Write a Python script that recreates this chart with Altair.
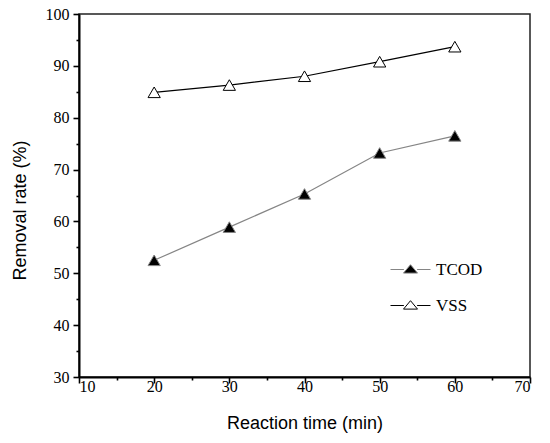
import altair as alt
import pandas as pd

times = [20, 30, 40, 50, 60]
tcod = [52.5, 58.9, 65.3, 73.2, 76.5]
vss = [84.9, 86.3, 88.0, 90.8, 93.7]
series = ["TCOD", "VSS"]

df = pd.DataFrame({
    "time": times * 2,
    "rate": tcod + vss,
    "series": [series[0]] * len(times) + [series[1]] * len(times),
})

x_ticks = list(range(10, 71, 5))
y_ticks = list(range(30, 101, 5))

SERIF = "Times New Roman, Liberation Serif, serif"
SANS = "Arial, Liberation Sans, sans-serif"

tick_cond = {"condition": {"test": "datum.value % 10 === 0", "value": 6}, "value": 3}

x_enc = alt.X(
    "time:Q",
    scale=alt.Scale(domain=[10, 70], nice=False, zero=False),
    axis=alt.Axis(
        title="Reaction time (min)",
        values=x_ticks,
        labelExpr="datum.value % 10 === 0 ? datum.label : ''",
        tickSize=tick_cond,
        grid=False,
        labelPadding=-5,
        titlePadding=20,
    ),
)
y_enc = alt.Y(
    "rate:Q",
    scale=alt.Scale(domain=[30, 100], nice=False, zero=False),
    axis=alt.Axis(
        title="Removal rate (%)",
        values=y_ticks,
        labelExpr="datum.value % 10 === 0 ? datum.label : ''",
        tickSize=tick_cond,
        grid=False,
        labelPadding=4,
        titlePadding=16,
        titleY=196,
    ),
)

stroke_scale = alt.Scale(domain=series, range=["#858585", "#000000"])
fill_scale = alt.Scale(domain=series, range=["#000000", "#ffffff"])

legend = alt.Legend(
    title=None,
    orient="none",
    legendX=311,
    legendY=235,
    padding=0,
    symbolType="M-1,0L-0.33,0M0.33,0L1,0M0,-0.24L0.35,0.18L-0.35,0.18Z",
    symbolSize=1600,
    symbolStrokeWidth=1,
    labelFont=SERIF,
    labelFontSize=17,
    labelColor="black",
    labelOffset=5,
    rowPadding=7,
)

lines = alt.Chart(df).mark_line(strokeWidth=1.2).encode(
    x=x_enc,
    y=y_enc,
    stroke=alt.Stroke("series:N", scale=stroke_scale, legend=legend),
    detail="series:N",
)

points = alt.Chart(df).mark_point(
    shape="triangle-up", size=150, strokeWidth=1, opacity=1, filled=False
).encode(
    x=x_enc,
    y=y_enc,
    fill=alt.Fill("series:N", scale=fill_scale, legend=legend),
    stroke=alt.Stroke("series:N", scale=stroke_scale, legend=legend),
)

chart = alt.layer(lines, points).properties(
    width=451,
    height=363,
    autosize=alt.AutoSizeParams(type="none"),
    padding={"left": 71, "top": 6, "right": 11, "bottom": 66},
).configure_view(
    stroke="#222222", strokeWidth=1.5
).configure_axis(
    domainColor="black",
    domainWidth=2,
    tickColor="black",
    tickWidth=1.6,
    labelFont=SERIF,
    labelFontSize=16,
    labelColor="black",
    titleFont=SANS,
    titleFontSize=18,
    titleFontWeight="normal",
    titleColor="black",
)

chart.save("out.html", embed_options={"renderer": "svg", "actions": False})
